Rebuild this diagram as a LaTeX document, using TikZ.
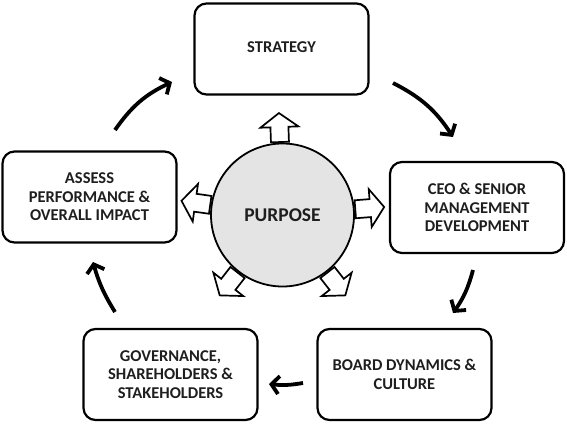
\documentclass[tikz,border=0pt]{standalone}
\usepackage{fontspec}
\setmainfont{Carlito}
\usetikzlibrary{arrows.meta}
\definecolor{txt}{HTML}{1E1E1E}
\definecolor{circfill}{HTML}{E4E4E4}
\tikzset{
  stagebox/.style={draw=black, line width=2.2pt, rounded corners=12pt,
    minimum width=174pt, minimum height=91pt, align=center,
    font=\fontsize{16.5}{18.5}\selectfont\bfseries, text=txt},
  purposecirc/.style={circle, draw=black, line width=1.8pt, fill=circfill,
    minimum size=143pt, inner sep=0pt, font=\fontsize{19.5}{22}\selectfont\bfseries, text=txt},
  cyclearrow/.style={line width=3.8pt, -{Straight Barb[length=7.5pt,width=18pt]}},
  hollowarrow/.style={draw=black, fill=white, line width=1.7pt, line join=miter}
}
\newcommand{\hollowat}[1]{%
  \draw[hollowarrow, shift={(P.center)}, rotate=#1]
    (73,-9) -- (88,-9) -- (88,-19) -- (102,0) -- (88,19) -- (88,9) -- (73,9) -- cycle;}
\begin{document}
\begin{tikzpicture}[x=1pt,y=1pt]
\useasboundingbox (0,0) rectangle (567,424);
\node[stagebox] (S) at (281.5,375) {\raisebox{3pt}{STRATEGY}};
\node[stagebox] (C) at (477,216.5) {CEO \& SENIOR\\MANAGEMENT\\DEVELOPMENT};
\node[stagebox] (B) at (404.5,49.5) {BOARD DYNAMICS \&\\CULTURE};
\node[stagebox] (G) at (170.5,49.5) {GOVERNANCE,\\SHAREHOLDERS \&\\STAKEHOLDERS};
\node[stagebox] (A) at (89.5,227) {ASSESS\\PERFORMANCE \&\\OVERALL IMPACT};
\node[purposecirc] (P) at (282.5,209) {PURPOSE};
\hollowat{92}
\hollowat{172}
\hollowat{4.5}
\hollowat{232}
\hollowat{308}
\coordinate (a1s) at (115,294); \coordinate (a1e) at (172,342);
\coordinate (a2s) at (393,341); \coordinate (a2e) at (453,287);
\coordinate (a3s) at (473,154); \coordinate (a3e) at (453,111);
\coordinate (a4s) at (303,41);  \coordinate (a4e) at (269,40);
\coordinate (a5s) at (115,112); \coordinate (a5e) at (93,162);
\draw[cyclearrow] (a1s) to[bend left=15] (a1e);
\draw[cyclearrow] (a2s) to[bend left=15] (a2e);
\draw[cyclearrow] (a3s) to[bend left=10] (a3e);
\draw[cyclearrow] (a4s) to[bend left=8] (a4e);
\draw[cyclearrow] (a5s) to[bend left=8] (a5e);
\end{tikzpicture}
\end{document}
